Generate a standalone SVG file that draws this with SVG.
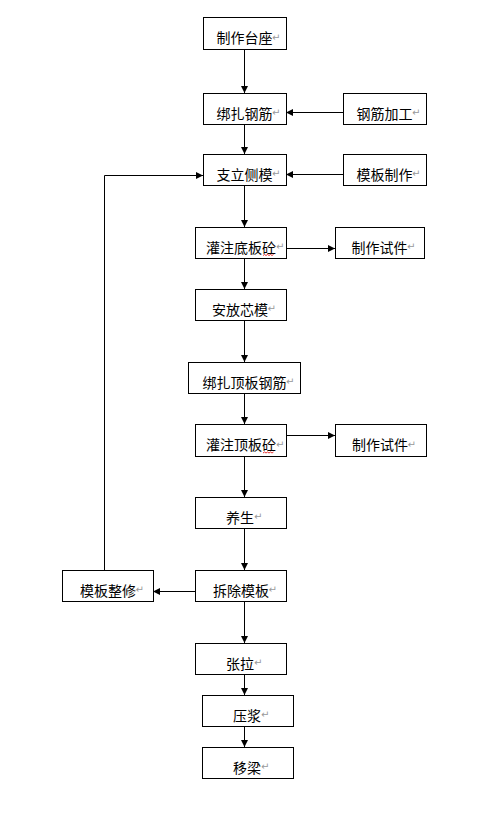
<svg xmlns="http://www.w3.org/2000/svg" width="490" height="814" viewBox="0 0 490 814">
<style>
.box{fill:#fff;stroke:#000;stroke-width:1}
.t{font-family:"Noto Sans CJK SC","Liberation Sans",sans-serif;font-size:14px;fill:#000}
.pm{font-family:"DejaVu Sans",sans-serif;font-size:10px;fill:#999}
.c{fill:none;stroke:#000;stroke-width:1}
.sq{fill:none;stroke:#d00;stroke-width:0.8}
</style>
<defs>
<marker id="ah" markerUnits="userSpaceOnUse" markerWidth="8" markerHeight="8" refX="7" refY="3.5" orient="auto">
<path d="M0,0 L7,3.5 L0,7 z" fill="#000"/>
</marker>
</defs>
<rect width="490" height="814" fill="#fff"/>
<g id="connectors">
<line class="c" x1="244.5" y1="49" x2="244.5" y2="93" marker-end="url(#ah)"/>
<line class="c" x1="343" y1="112.5" x2="286" y2="112.5" marker-end="url(#ah)"/>
<line class="c" x1="244.5" y1="124" x2="244.5" y2="154" marker-end="url(#ah)"/>
<line class="c" x1="343" y1="174.5" x2="286" y2="174.5" marker-end="url(#ah)"/>
<line class="c" x1="244.5" y1="186" x2="244.5" y2="227" marker-end="url(#ah)"/>
<line class="c" x1="287" y1="248.5" x2="335" y2="248.5" marker-end="url(#ah)"/>
<line class="c" x1="244.5" y1="258" x2="244.5" y2="289" marker-end="url(#ah)"/>
<line class="c" x1="244.5" y1="320" x2="244.5" y2="362" marker-end="url(#ah)"/>
<line class="c" x1="244.5" y1="393" x2="244.5" y2="424" marker-end="url(#ah)"/>
<line class="c" x1="287" y1="435.5" x2="335" y2="435.5" marker-end="url(#ah)"/>
<line class="c" x1="244.5" y1="457" x2="244.5" y2="497" marker-end="url(#ah)"/>
<line class="c" x1="244.5" y1="528" x2="244.5" y2="570" marker-end="url(#ah)"/>
<line class="c" x1="195" y1="591.5" x2="153" y2="591.5" marker-end="url(#ah)"/>
<polyline class="c" points="104.5,570 104.5,175.5 203,175.5" marker-end="url(#ah)"/>
<line class="c" x1="244.5" y1="601" x2="244.5" y2="643" marker-end="url(#ah)"/>
<line class="c" x1="244.5" y1="674" x2="244.5" y2="695" marker-end="url(#ah)"/>
<line class="c" x1="244.5" y1="726" x2="244.5" y2="747" marker-end="url(#ah)"/>
</g>
<g id="n1"><rect class="box" x="203.5" y="17.5" width="83" height="32"/><text class="t" x="216.5" y="43">制作台座</text><text class="pm" x="272" y="40.5">↵</text></g>
<g id="n2"><rect class="box" x="203.5" y="93.5" width="83" height="31"/><text class="t" x="216.5" y="118.5">绑扎钢筋</text><text class="pm" x="272" y="116">↵</text></g>
<g id="n3"><rect class="box" x="343.5" y="93.5" width="83" height="31"/><text class="t" x="356.5" y="118.5">钢筋加工</text><text class="pm" x="412" y="116">↵</text></g>
<g id="n4"><rect class="box" x="203.5" y="154.5" width="83" height="31"/><text class="t" x="216.5" y="179.5">支立侧模</text><text class="pm" x="272" y="177">↵</text></g>
<g id="n5"><rect class="box" x="343.5" y="154.5" width="83" height="31"/><text class="t" x="356.5" y="179.5">模板制作</text><text class="pm" x="412" y="177">↵</text></g>
<g id="n6"><rect class="box" x="195.5" y="227.5" width="91" height="31"/><text class="t" x="206" y="252.5">灌注底板砼</text><text class="pm" x="276" y="250">↵</text><path class="sq" d="M263,255.5 l1.5,-1 l1.5,1 l1.5,-1 l1.5,1 l1.5,-1 l1.5,1 l1.5,-1"/></g>
<g id="n7"><rect class="box" x="335.5" y="227.5" width="89" height="31"/><text class="t" x="351.5" y="252.5">制作试件</text><text class="pm" x="407" y="250">↵</text></g>
<g id="n8"><rect class="box" x="195.5" y="289.5" width="91" height="31"/><text class="t" x="212" y="314.5">安放芯模</text><text class="pm" x="267.5" y="312">↵</text></g>
<g id="n9"><rect class="box" x="188.5" y="362.5" width="112" height="31"/><text class="t" x="202.5" y="387.5">绑扎顶板钢筋</text><text class="pm" x="286" y="385">↵</text></g>
<g id="n10"><rect class="box" x="195.5" y="424.5" width="91" height="32"/><text class="t" x="206" y="450">灌注顶板砼</text><text class="pm" x="276" y="447.5">↵</text><path class="sq" d="M263,453 l1.5,-1 l1.5,1 l1.5,-1 l1.5,1 l1.5,-1 l1.5,1 l1.5,-1"/></g>
<g id="n11"><rect class="box" x="335.5" y="424.5" width="91" height="32"/><text class="t" x="352" y="450">制作试件</text><text class="pm" x="407.5" y="447.5">↵</text></g>
<g id="n12"><rect class="box" x="195.5" y="497.5" width="91" height="31"/><text class="t" x="226" y="522.5">养生</text><text class="pm" x="254" y="520">↵</text></g>
<g id="n13"><rect class="box" x="195.5" y="570.5" width="91" height="31"/><text class="t" x="213" y="595.5">拆除模板</text><text class="pm" x="268.5" y="593">↵</text></g>
<g id="n14"><rect class="box" x="62.5" y="570.5" width="91" height="31"/><text class="t" x="80" y="595.5">模板整修</text><text class="pm" x="135.5" y="593">↵</text></g>
<g id="n15"><rect class="box" x="195.5" y="643.5" width="91" height="31"/><text class="t" x="226" y="668.5">张拉</text><text class="pm" x="254" y="666">↵</text></g>
<g id="n16"><rect class="box" x="202.5" y="695.5" width="91" height="31"/><text class="t" x="233" y="720.5">压浆</text><text class="pm" x="261" y="718">↵</text></g>
<g id="n17"><rect class="box" x="202.5" y="747.5" width="91" height="31"/><text class="t" x="233" y="772.5">移梁</text><text class="pm" x="261" y="770">↵</text></g>
</svg>
